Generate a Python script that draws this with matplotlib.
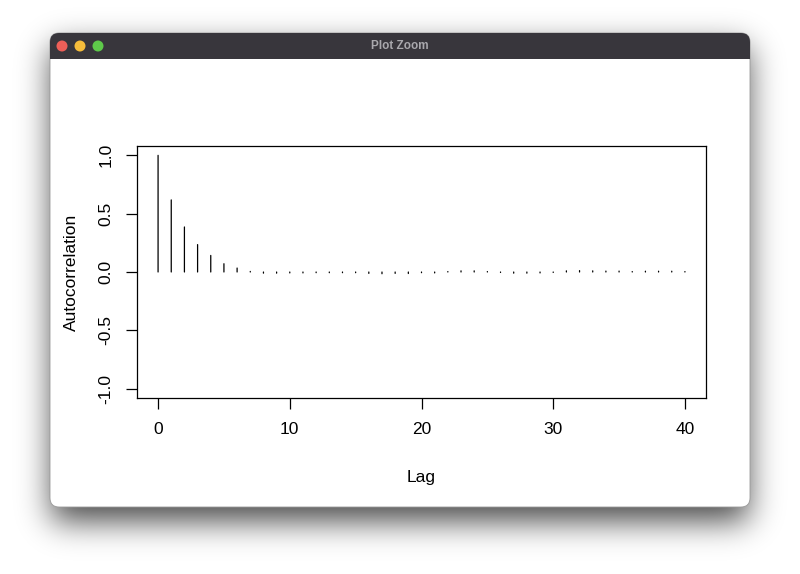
import numpy as np
import matplotlib
matplotlib.use("Agg")
import matplotlib.pyplot as plt
from matplotlib.patches import FancyBboxPatch, Rectangle, Circle

plt.rcParams['font.family'] = ['Liberation Sans', 'DejaVu Sans']

# ---- data ----
lags = list(range(0, 41))
acf_values = [1.000, 0.618, 0.386, 0.235, 0.142, 0.071, 0.034, 0.005,
              -0.010, -0.010, -0.008, -0.008, -0.006, -0.006, -0.006, -0.006,
              -0.012, -0.015, -0.012, -0.013, -0.006, -0.008, 0.004,
              0.010, 0.010, 0.004, -0.004, -0.010, -0.010, -0.008, -0.004,
              0.010, 0.012, 0.010, 0.008, 0.008, 0.004, 0.007, 0.007, 0.007, 0.004]
x_ticks = [0, 10, 20, 30, 40]
y_ticks = [-1.0, -0.5, 0.0, 0.5, 1.0]
y_tick_labels = ["-1.0", "-0.5", "0.0", "0.5", "1.0"]
window_title = "Plot Zoom"
x_label = "Lag"
y_label = "Autocorrelation"

W, H = 800, 574
fig = plt.figure(figsize=(W / 100, H / 100), dpi=100)
fig.patch.set_facecolor("white")

# ---- background: window shadow + window chrome ----
bg = fig.add_axes([0, 0, 1, 1])
bg.set_xlim(0, W)
bg.set_ylim(H, 0)
bg.axis("off")

mask = np.zeros((H, W))
mask[33 + 14:507 + 14, 52:748] = 1.0
sigma = 16.0
k = np.arange(-50, 51)
g = np.exp(-k ** 2 / (2 * sigma ** 2))
g /= g.sum()
blur = np.array([np.convolve(r, g, mode="same") for r in mask])
blur = np.array([np.convolve(c, g, mode="same") for c in blur.T]).T
shadow = np.zeros((H, W, 4))
shadow[..., 3] = 0.72 * blur
bg.imshow(shadow, extent=(0, W, H, 0), zorder=0, interpolation="bilinear")

win = FancyBboxPatch((50, 33), 700, 474, boxstyle="round,pad=0,rounding_size=9",
                     facecolor="white", edgecolor="#9a9a9a", linewidth=0.6, zorder=1)
bg.add_patch(win)
bar = Rectangle((50, 33), 700, 25.5, facecolor="#38363c", edgecolor="none", zorder=2)
bg.add_patch(bar)
bar.set_clip_path(win)
for cx, col in [(62, "#ee5f58"), (80, "#f6bd3b"), (98, "#5ec94a")]:
    bg.add_patch(Circle((cx, 46), 5.5, facecolor=col, edgecolor="none", zorder=3))
bg.text(400, 46, window_title, color="#a9a8ad", fontsize=8.5, fontweight="bold",
        ha="center", va="center", zorder=3)

# ---- main plot ----
ax = fig.add_axes([137 / W, (H - 398) / H, 569 / W, 252 / H], zorder=2)
ax.set_facecolor("none")
ax.vlines(lags, 0, acf_values, colors="black", linewidth=0.9,
          capstyle="round", snap=False)
ax.set_xlim(-1.6, 41.6)
ax.set_ylim(-1.08, 1.08)
ax.set_xticks(x_ticks)
ax.set_yticks(y_ticks)
ax.set_yticklabels(y_tick_labels, rotation=90, va="center")
for s in ax.spines.values():
    s.set_linewidth(0.9)
ax.tick_params(direction="out", length=8, width=0.9, labelsize=12.5, pad=9)
ax.set_xlabel(x_label, fontsize=12.5, labelpad=24)
ax.set_ylabel(y_label, fontsize=12.5, labelpad=14)

fig.savefig("out.png", dpi=100)
